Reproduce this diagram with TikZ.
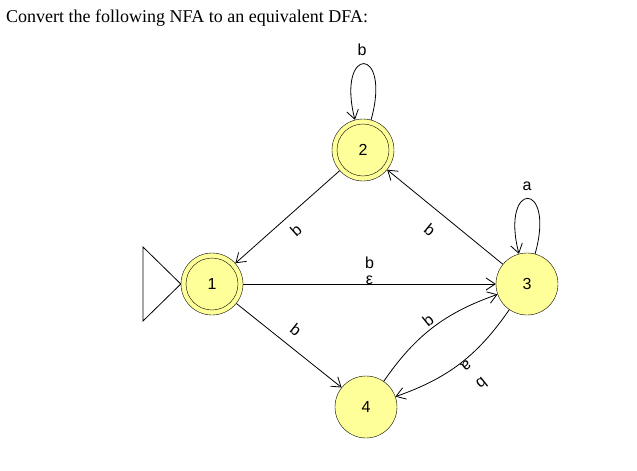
\documentclass[tikz,border=0pt]{standalone}
\usepackage{fontspec}
\setmainfont{Liberation Serif}
\newfontfamily\lab{Liberation Sans}
\usetikzlibrary{arrows.meta}
\definecolor{stfill}{RGB}{255,255,153}
\begin{document}
\begin{tikzpicture}[x=1pt,y=-1pt,
  st/.style={circle,draw,fill=stfill,minimum size=62pt,inner sep=0pt,font=\lab\fontsize{16}{18}\selectfont},
  acc/.style={st,append after command={\pgfextra{\draw (\tikzlastnode.center) circle[radius=26pt];}}},
  tr/.style={draw,-{Straight Barb[length=9pt,width=12pt]},line width=0.8pt},
  lb/.style={font=\lab\fontsize{16}{18}\selectfont,inner sep=1pt}]
\useasboundingbox (0,0) rectangle (637,471);
\node[anchor=west,font=\fontsize{18}{20}\selectfont,inner sep=0pt] (title) at (6,18) {Convert the following NFA to an equivalent DFA:};
\node[st] (n1) at (212,284) {};
\draw (n1.center) circle[radius=26pt];
\node[font=\lab\fontsize{16}{18}\selectfont] (t1) at (n1) {1};
\node[st] (n2) at (363,150) {};
\draw (n2.center) circle[radius=26pt];
\node[font=\lab\fontsize{16}{18}\selectfont] (t2) at (n2) {2};
\node[st] (n3) at (527,284) {3};
\node[st] (n4) at (366,407) {4};
\draw[line width=0.8pt] (n1.west) -- (143,247) -- (143,321) -- cycle;
\draw[tr] (n2) -- (n1);
\node[lb,rotate=41.6] (e21) at (296,230) {b};
\draw[tr] (n3) -- (n2);
\node[lb,rotate=-39.3] (e32) at (430,230) {b};
\draw[tr] (n1) -- (n3) node[lb,midway,above=14pt] {b} node[lb,midway,above=-2pt] {ε};
\draw[tr] (n1) -- (n4);
\node[lb,rotate=-38.6] (e14) at (296,330) {b};
\draw[tr] (n4) to[bend left=18] (n3);
\node[lb,rotate=38.6] (e43) at (428,320) {b};
\draw[tr] (n3) to[bend left=18] (n4);
\node[lb,rotate=218.6] (e34a) at (466,366) {a};
\node[lb,rotate=218.6] (e34b) at (482,384) {b};
\draw[tr] (n2.75) .. controls (392,45) and (336,45) .. (n2.105);
\node[lb] (l2) at (362,50) {b};
\draw[tr] (n3.75) .. controls (556,180) and (500,180) .. (n3.105);
\node[lb] (l3) at (527,186) {a};
\end{tikzpicture}
\end{document}
